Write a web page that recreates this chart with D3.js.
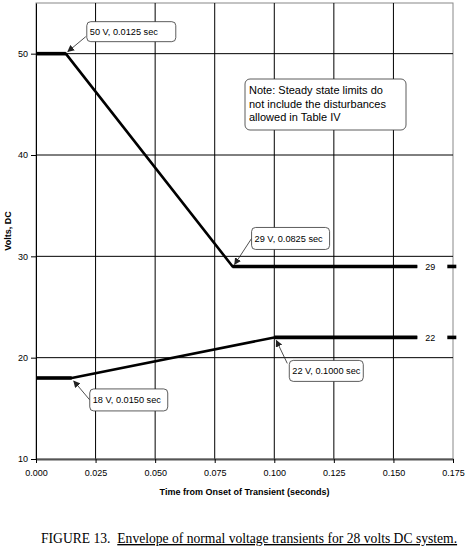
<!DOCTYPE html>
<html>
<head>
<meta charset="utf-8">
<script src="https://cdn.jsdelivr.net/npm/d3@7"></script>
<style>
  body { margin: 0; background: #fff; }
  svg { display: block; font-family: "Liberation Sans", Arial, sans-serif; }
</style>
</head>
<body>
<div id="chart"></div>
<script>
// envelope data (time in seconds, volts)
const upperTimes = [0, 0.0125, 0.0825, 0.16];
const upperVolts = [50, 50, 29, 29];
const lowerTimes = [0, 0.015, 0.1, 0.16];
const lowerVolts = [18, 18, 22, 22];

// steady state end labels
const steadyVolts = [29, 22];
const steadyLabels = ["29", "22"];
const steadyLabelTime = 0.1655;
const steadyMarkTime = 0.1745;

// ticks
const xTicks = [0, 0.025, 0.05, 0.075, 0.1, 0.125, 0.15, 0.175];
const yTicks = [10, 20, 30, 40, 50];

// callouts
const calloutTexts = ["50 V, 0.0125 sec", "29 V, 0.0825 sec", "22 V, 0.1000 sec", "18 V, 0.0150 sec"];
const calloutTimes = [0.0125, 0.0825, 0.1, 0.015];
const calloutVolts = [50, 29, 22, 18];
const noteLines = ["Note: Steady state limits do", "not include the disturbances", "allowed in Table IV"];

const width = 469;
const height = 548;
const margin = { top: 3, right: 16, bottom: 89, left: 36 };

// box placement for each callout: [dx, dy, w, h] relative to the point, arrow start [ax, ay]
const calloutBoxes = [
  { dx: 21, dy: -32, w: 89, h: 20, ax: 20, ay: -17 },
  { dx: 19, dy: -39, w: 78, h: 22, ax: 19, ay: -28 },
  { dx: 15, dy: 23, w: 74, h: 21, ax: 13, ay: 26 },
  { dx: 18, dy: 11, w: 78, h: 22, ax: 18, ay: 22 }
];

const x = d3.scaleLinear().domain([0, 0.175]).range([margin.left, width - margin.right]);
const y = d3.scaleLinear().domain([10, 55]).range([height - margin.bottom, margin.top]);

const svg = d3.select("#chart").append("svg")
  .attr("width", width)
  .attr("height", height);

svg.append("defs").append("marker")
  .attr("id", "arrow")
  .attr("viewBox", "0 0 10 10")
  .attr("refX", 9)
  .attr("refY", 5)
  .attr("markerWidth", 7)
  .attr("markerHeight", 7)
  .attr("markerUnits", "userSpaceOnUse")
  .attr("orient", "auto")
  .append("path")
  .attr("d", "M0,0 L10,5 L0,10 Z")
  .attr("fill", "#222");

// plot frame (grey) on top/right
svg.append("rect")
  .attr("x", x(0))
  .attr("y", y(55))
  .attr("width", x(0.175) - x(0))
  .attr("height", y(10) - y(55))
  .attr("fill", "none")
  .attr("stroke", "#888")
  .attr("stroke-width", 1);

// grid lines
svg.append("g")
  .selectAll("line")
  .data(xTicks.slice(1, -1))
  .join("line")
  .attr("x1", d => x(d)).attr("x2", d => x(d))
  .attr("y1", y(55)).attr("y2", y(10))
  .attr("stroke", "#000")
  .attr("stroke-width", 1);

svg.append("g")
  .selectAll("line")
  .data(yTicks.slice(1))
  .join("line")
  .attr("x1", x(0)).attr("x2", x(0.175))
  .attr("y1", d => y(d)).attr("y2", d => y(d))
  .attr("stroke", "#000")
  .attr("stroke-width", 1);

// axes
const xAxis = svg.append("g")
  .attr("transform", `translate(0,${y(10)})`)
  .call(d3.axisBottom(x).tickValues(xTicks).tickFormat(d3.format(".3f")).tickSize(4).tickSizeOuter(0));
xAxis.select(".domain").attr("stroke", "#555").attr("stroke-width", 2);
xAxis.selectAll("text").attr("font-size", 9).attr("dy", "1.1em").attr("fill", "#000");

const yAxis = svg.append("g")
  .attr("transform", `translate(${x(0)},0)`)
  .call(d3.axisLeft(y).tickValues(yTicks).tickSize(5).tickSizeOuter(0));
yAxis.select(".domain").attr("stroke", "#000");
yAxis.selectAll("text").attr("font-size", 9).attr("fill", "#000");

// axis titles
svg.append("text")
  .attr("x", (x(0) + x(0.175)) / 2)
  .attr("y", y(10) + 36)
  .attr("text-anchor", "middle")
  .attr("font-size", 9)
  .attr("font-weight", "bold")
  .text("Time from Onset of Transient (seconds)");

svg.append("text")
  .attr("transform", `translate(11,${(y(10) + y(55)) / 2}) rotate(-90)`)
  .attr("text-anchor", "middle")
  .attr("font-size", 9)
  .attr("font-weight", "bold")
  .text("Volts, DC");

// envelope lines
function drawEnvelope(times, volts) {
  const pts = times.map((t, i) => [t, volts[i]]);
  svg.append("path")
    .datum(pts)
    .attr("d", d3.line().x(d => x(d[0])).y(d => y(d[1])))
    .attr("fill", "none")
    .attr("stroke", "#000")
    .attr("stroke-width", 2.6)
    .attr("stroke-linejoin", "round");
  // flat parts are drawn a little heavier
  for (let i = 0; i < pts.length - 1; i++) {
    if (pts[i][1] === pts[i + 1][1]) {
      svg.append("line")
        .attr("x1", x(pts[i][0])).attr("x2", x(pts[i + 1][0]))
        .attr("y1", y(pts[i][1])).attr("y2", y(pts[i + 1][1]))
        .attr("stroke", "#000")
        .attr("stroke-width", 3.6);
    }
  }
}
drawEnvelope(upperTimes, upperVolts);
drawEnvelope(lowerTimes, lowerVolts);

// end labels and dashes
steadyVolts.forEach((v, i) => {
  svg.append("text")
    .attr("x", x(steadyLabelTime))
    .attr("y", y(v))
    .attr("dy", "0.35em")
    .attr("text-anchor", "middle")
    .attr("font-size", 9)
    .text(steadyLabels[i]);
  svg.append("line")
    .attr("x1", x(steadyMarkTime) - 4.5).attr("x2", x(steadyMarkTime) + 4.5)
    .attr("y1", y(v)).attr("y2", y(v))
    .attr("stroke", "#000")
    .attr("stroke-width", 3.6);
});

// callouts
calloutTexts.forEach((txt, i) => {
  const px = x(calloutTimes[i]);
  const py = y(calloutVolts[i]);
  const b = calloutBoxes[i];
  svg.append("line")
    .attr("x1", px + b.ax).attr("y1", py + b.ay)
    .attr("x2", px + 2).attr("y2", py + (b.ay < 0 ? -2 : 3))
    .attr("stroke", "#222")
    .attr("stroke-width", 0.8)
    .attr("marker-end", "url(#arrow)");
  svg.append("rect")
    .attr("x", px + b.dx).attr("y", py + b.dy)
    .attr("width", b.w).attr("height", b.h)
    .attr("rx", 4)
    .attr("fill", "#fff")
    .attr("stroke", "#333")
    .attr("stroke-width", 0.8);
  svg.append("text")
    .attr("x", px + b.dx + 3)
    .attr("y", py + b.dy + b.h / 2)
    .attr("dy", "0.35em")
    .attr("font-size", 9.2)
    .text(txt);
});

// note box
const note = svg.append("g").attr("transform", "translate(245,79)");
note.append("rect")
  .attr("width", 161).attr("height", 51)
  .attr("rx", 5)
  .attr("fill", "#fff")
  .attr("stroke", "#333")
  .attr("stroke-width", 0.8);
note.selectAll("text")
  .data(noteLines)
  .join("text")
  .attr("x", 4)
  .attr("y", (d, i) => 15 + i * 13.7)
  .attr("font-size", 11)
  .text(d => d);

// figure caption
const caption = svg.append("text")
  .attr("x", 41)
  .attr("y", 543)
  .attr("font-family", "'Liberation Serif', 'Times New Roman', serif")
  .attr("font-size", 13.6);
caption.append("tspan").text("FIGURE 13.\u00a0\u00a0");
caption.append("tspan").attr("text-decoration", "underline").text("Envelope of normal voltage transients for 28 volts DC system.");
</script>
</body>
</html>
